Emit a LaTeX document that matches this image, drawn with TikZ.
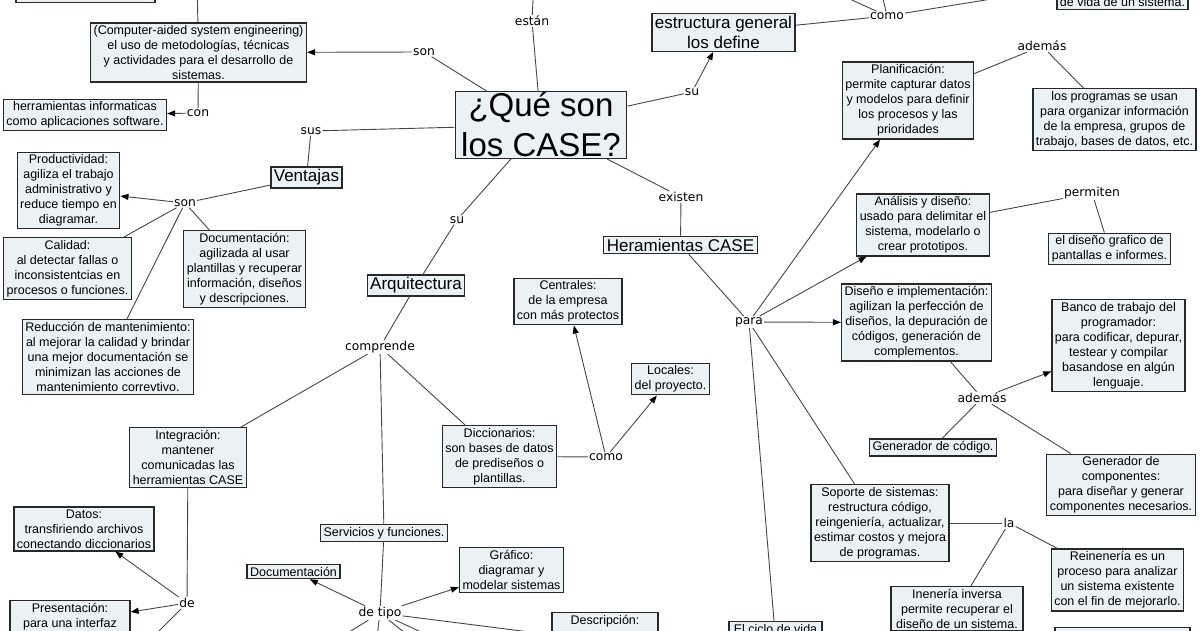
\documentclass[tikz,border=0pt]{standalone}
\usepackage{fontspec}
\setmainfont{Liberation Sans}
\newfontfamily\linkfont{DejaVu Sans}
\usetikzlibrary{arrows.meta}

\definecolor{conceptfill}{RGB}{234,242,245}
\definecolor{conceptdraw}{RGB}{40,40,40}
\definecolor{wiregray}{RGB}{70,70,70}

\begin{document}
\begin{tikzpicture}
  [x=1pt,y=-1pt,every node/.style={inner sep=1pt}]

  \tikzstyle{concept} = [draw=conceptdraw, line width=1.3pt, fill=conceptfill, align=center,
                         inner xsep=3pt, inner ysep=2.5pt, font=\fontsize{12.5}{15}\selectfont]
  \tikzstyle{bigconcept} = [concept, font=\fontsize{17}{20}\selectfont]
  \tikzstyle{link} = [font=\linkfont\fontsize{12.3}{14}\selectfont]
  \tikzstyle{wire} = [draw=wiregray, line width=0.9pt]

  \useasboundingbox (0,0) rectangle (1200,630);
  \clip (0,0) rectangle (1200,630);

  % conceptos
  \node[concept, inner xsep=6pt, inner ysep=1pt, font=\fontsize{33}{40}\selectfont] (1) at (541,125) {¿Qué son\\los CASE?};
  \node[concept] (2) at (198.5,52.5) {(Computer-aided system engineering)\\el uso de metodologías, técnicas\\y actividades para el desarrollo de\\sistemas.};
  \node[concept] (3) at (85,115) {herramientas informaticas\\como aplicaciones software.};
  \node[bigconcept] (4) at (723.5,32.5) {estructura general\\los define};
  \node[bigconcept] (5) at (306.5,177.5) {Ventajas};
  \node[concept] (6) at (68.5,190.5) {Productividad:\\agiliza el trabajo\\administrativo y\\reduce tiempo en\\diagramar.};
  \node[concept] (7) at (67.5,268.5) {Calidad:\\al detectar fallas o\\inconsistentcias en\\procesos o funciones.};
  \node[concept] (8) at (244.5,269) {Documentación:\\agilizada al usar\\plantillas y recuperar\\información, diseños\\y descripciones.};
  \node[concept] (9) at (108,357) {Reducción de mantenimiento:\\al mejorar la calidad y brindar\\una mejor documentación se\\minimizan las acciones de\\mantenimiento correvtivo.};
  \node[bigconcept] (10) at (416,285.5) {Arquitectura};
  \node[bigconcept] (11) at (680.5,245) {Heramientas CASE};
  \node[concept] (12) at (908,100.5) {Planificación:\\permite capturar datos\\y modelos para definir\\los procesos y las\\prioridades};
  \node[concept] (13) at (1114.5,119.5) {los programas se usan\\para organizar información\\de la empresa, grupos de\\trabajo, bases de datos, etc.};
  \node[concept] (14) at (923,225) {Análisis y diseño:\\usado para delimitar el\\sistema, modelarlo o\\crear prototipos.};
  \node[concept] (15) at (1109.5,249) {el diseño grafico de\\pantallas e informes.};
  \node[concept] (16) at (916.5,322.5) {Diseño e implementación:\\agilizan la perfección de\\diseños, la depuración de\\códigos, generación de\\complementos.};
  \node[concept] (17) at (1118.5,345.5) {Banco de trabajo del\\programador:\\para codificar, depurar,\\testear y compilar\\basandose en algún\\lenguaje.};
  \node[concept] (18) at (933,447.5) {Generador de código.};
  \node[concept] (19) at (1121,485) {Generador de\\componentes:\\para diseñar y generar\\componentes necesarios.};
  \node[concept] (20) at (880,523) {Soporte de sistemas:\\restructura código,\\reingeniería, actualizar,\\estimar costos y mejora\\de programas.};
  \node[concept] (21) at (1117.5,580) {Reinenería es un\\proceso para analizar\\un sistema existente\\con el fin de mejorarlo.};
  \node[concept, anchor=north, minimum width=132pt] (22) at (957,586) {Inenería inversa\\permite recuperar el\\diseño de un sistema.};
  \node[concept, anchor=north, minimum width=93pt, text depth=20pt] (23) at (775.5,621) {El ciclo de vida};
  \node[concept] (24) at (568,301.5) {Centrales:\\de la empresa\\con más protectos};
  \node[concept] (25) at (670.5,379) {Locales:\\del proyecto.};
  \node[concept] (26) at (499.5,456.5) {Diccionarios:\\son bases de datos\\de prediseños o\\plantillas.};
  \node[concept] (27) at (188,457.5) {Integración:\\mantener\\comunicadas las\\herramientas CASE};
  \node[concept] (28) at (84,529) {Datos:\\transfiriendo archivos\\conectando diccionarios};
  \node[concept, anchor=north, minimum width=120pt, text depth=30pt] (29) at (70,600) {Presentación:\\para una interfaz};
  \node[concept] (30) at (293.5,571.5) {Documentación};
  \node[concept] (31) at (384,533) {Servicios y funciones.};
  \node[concept] (32) at (511.5,570) {Gráfico:\\diagramar y\\modelar sistemas};
  \node[concept, anchor=north, minimum width=106pt, text depth=30pt] (33) at (605,612) {Descripción:};
  \node[concept, anchor=south, text height=30pt] (34) at (1122.5,10) {de vida de un sistema.};
  \node[concept, anchor=south, minimum width=139pt, minimum height=40pt] (35) at (85.5,3) {};
  \node[concept, anchor=north, minimum width=135pt, minimum height=30pt] (36) at (1122.5,627) {};

  % frases de enlace
  \node[link] (40) at (424,52) {son};
  \node[link] (41) at (198,113) {con};
  \node[link] (42) at (311,131) {sus};
  \node[link] (43) at (185,203) {son};
  \node[link] (44) at (532,21) {están};
  \node[link] (45) at (692,92) {su};
  \node[link] (46) at (681,197) {existen};
  \node[link] (47) at (457,220) {su};
  \node[link] (48) at (887,16) {como};
  \node[link] (49) at (1042,46) {además};
  \node[link] (50) at (1092,193) {permiten};
  \node[link] (51) at (749,322) {para};
  \node[link] (52) at (982,398) {además};
  \node[link] (53) at (1009,523) {la};
  \node[link] (54) at (380,347) {comprende};
  \node[link] (55) at (606,457) {como};
  \node[link] (56) at (187,603) {de};
  \node[link] (57) at (380,613) {de tipo};

  % salen del recorte
  \coordinate (a1) at (197,-20);
  \coordinate (a2) at (534,-20);
  \coordinate (a3) at (830,-10);
  \coordinate (a4) at (881,-10);
  \coordinate (a5) at (1010,-4);
  \coordinate (b1) at (150,640);
  \coordinate (b2) at (320,650);
  \coordinate (b3) at (374,660);
  \coordinate (b4) at (420,645);
  \coordinate (b5) at (460,650);

  \path[wire]
        (1) edge (40)  (1) edge (44)  (44) edge (a2)  (2) edge (a1)
        (2) edge (41)  (1) edge (42)  (42) edge (5)   (5) edge (43)
        (43) edge (7)  (43) edge (9)  (43) edge (8)   (1) edge (45)
        (4) edge (48)  (48) edge (a3) (48) edge (a4)  (48) edge (a5)
        (1) edge (46)  (46) edge (11) (11) edge (51)  (51) edge (20)
        (51) edge (23) (12) edge (49) (49) edge (13)  (14) edge (50)
        (50) edge (15) (16) edge (52) (52) edge (18)  (52) edge (19)
        (20) edge (53) (53) edge (21) (53) edge (22)  (1) edge (47)
        (47) edge (10) (10) edge (54) (54) edge (27)  (54) edge (26)
        (54) edge (31) (26) edge (55) (27) edge (56)  (56) edge (b1)
        (31) edge (57) (57) edge (33.west) (57) edge (b2) (57) edge (b3)
        (57) edge (b4) (57) edge (b5);

  \path[wire, ->, >={Triangle[length=8pt,width=6pt,color=black]}]
        (40) edge (2)  (41) edge (3)  (43) edge (6)   (45) edge (4)
        (51) edge (12) (51) edge (14) (51) edge (16)  (52) edge (17)
        (55) edge (24) (55) edge (25) (56) edge (28)
        (56) edge ([yshift=-12pt]29.north east)
        (57) edge (30) (57) edge (32);
\end{tikzpicture}
\end{document}
